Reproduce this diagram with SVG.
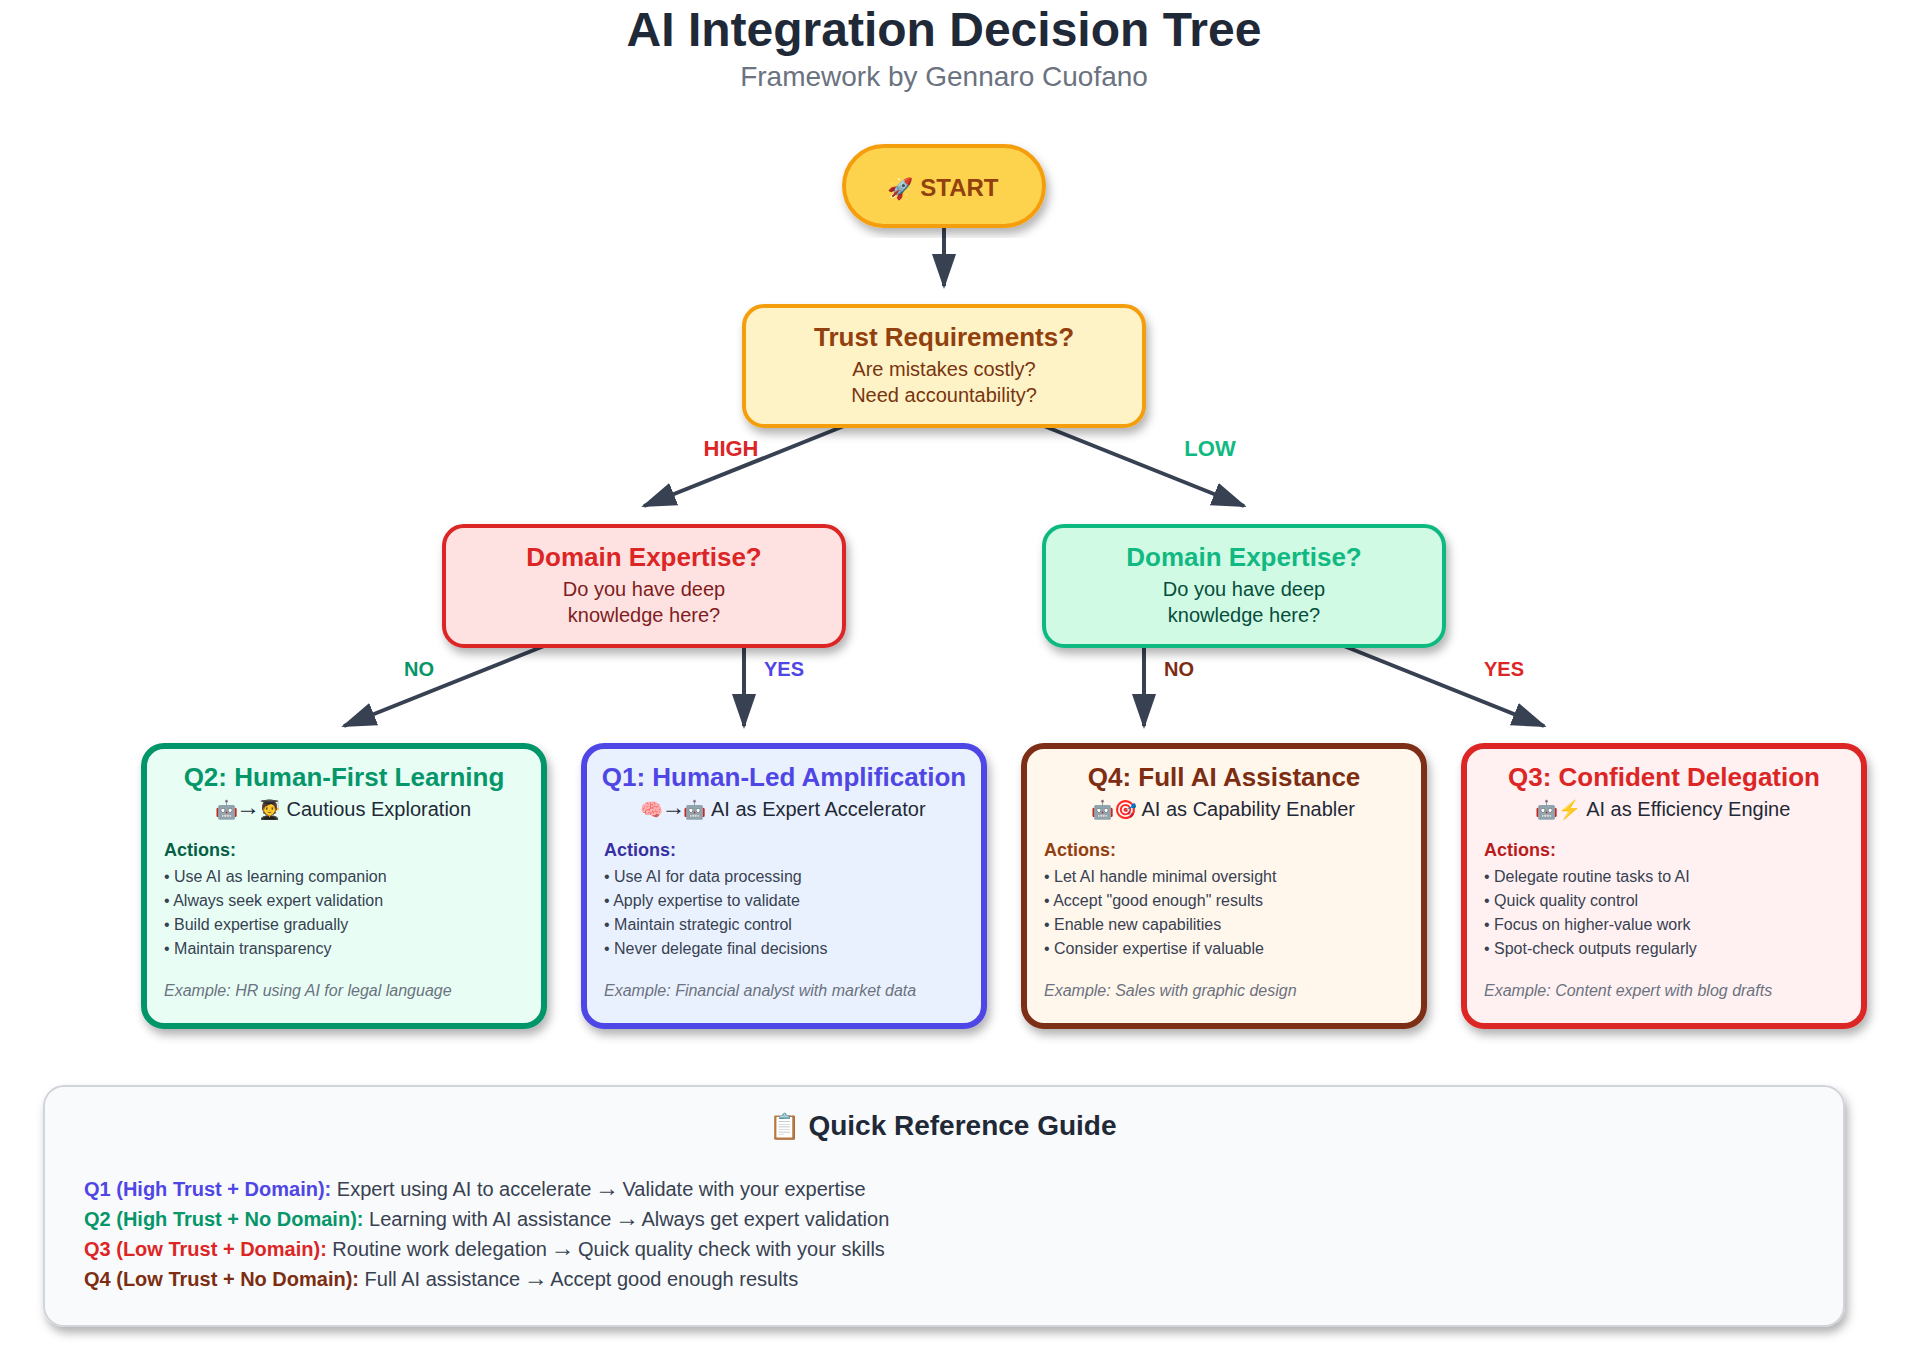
<svg xmlns="http://www.w3.org/2000/svg" width="1914" height="1356" viewBox="0 0 1914 1356">
<style>
text{font-family:"Liberation Sans",Arial,"Noto Color Emoji",sans-serif}
.c{text-anchor:middle}
.b{font-weight:700}
.t24{font-size:24px;font-weight:700}
.t26{font-size:26px;font-weight:700}
.s20{font-size:20px}
.sub{font-size:20px;fill:#1f2937}
.em{font-size:18.5px}
.ar{font-size:24px}
.act{font-size:18px;font-weight:700}
.li{font-size:16px;fill:#374151}
.ex{font-size:16px;font-style:italic;fill:#6b7280}
.lb{font-size:22px;font-weight:700}
.lb2{font-size:20px;font-weight:700}
.g{font-size:20px;fill:#374151}
.cn{stroke:#374151;stroke-width:4;fill:none;marker-end:url(#arrow)}
.n{filter:url(#sh)}
</style>
<defs>
<filter id="sh" x="-10%" y="-10%" width="125%" height="125%"><feDropShadow dx="3" dy="6" stdDeviation="5" flood-color="#000" flood-opacity="0.3"/></filter>
<marker id="arrow" markerUnits="userSpaceOnUse" markerWidth="36" markerHeight="26" refX="32" refY="12" orient="auto"><polygon points="0 0,35 12,0 24" fill="#374151"/></marker>
</defs>
<rect width="1914" height="1356" fill="#fff"/>
<text class="c b" x="944" y="46" font-size="48" fill="#1f2937">AI Integration Decision Tree</text>
<text class="c" x="944" y="86" font-size="28" fill="#6b7280">Framework by Gennaro Cuofano</text>
<g id="connectors">
<line class="cn" x1="944" y1="226" x2="944" y2="286"/>
<line class="cn" x1="844" y1="426" x2="644" y2="506"/>
<line class="cn" x1="1044" y1="426" x2="1244" y2="506"/>
<line class="cn" x1="544" y1="646" x2="344" y2="726"/>
<line class="cn" x1="744" y1="646" x2="744" y2="726"/>
<line class="cn" x1="1144" y1="646" x2="1144" y2="726"/>
<line class="cn" x1="1344" y1="646" x2="1544" y2="726"/>
<text class="c lb" x="731" y="456" fill="#dc2626">HIGH</text>
<text class="c lb" x="1210" y="456" fill="#10b981">LOW</text>
<text class="c lb2" x="419" y="676" fill="#059669">NO</text>
<text class="c lb2" x="784" y="676" fill="#4f46e5">YES</text>
<text class="c lb2" x="1179" y="676" fill="#7c2d12">NO</text>
<text class="c lb2" x="1504" y="676" fill="#dc2626">YES</text>
</g>
<g id="start"><rect class="n" x="844" y="146" width="200" height="80" rx="40" fill="#fdd34d" stroke="#f59e0b" stroke-width="4"/>
<text class="c t24" x="943" y="196" fill="#92400e"><tspan font-size="21">🚀</tspan> START</text></g>
<g id="trust"><rect class="n" x="744" y="306" width="400" height="120" rx="20" fill="#fef3c7" stroke="#f59e0b" stroke-width="4"/>
<text class="c t26" x="944" y="346" fill="#92400e">Trust Requirements?</text>
<text class="c s20" x="944" y="376" fill="#78350f">Are mistakes costly?</text>
<text class="c s20" x="944" y="402" fill="#78350f">Need accountability?</text></g>
<g id="domain-high"><rect class="n" x="444" y="526" width="400" height="120" rx="20" fill="#fee2e2" stroke="#dc2626" stroke-width="4"/>
<text class="c t26" x="644" y="566" fill="#dc2626">Domain Expertise?</text>
<text class="c s20" x="644" y="596" fill="#7f1d1d">Do you have deep</text>
<text class="c s20" x="644" y="622" fill="#7f1d1d">knowledge here?</text></g>
<g id="domain-low"><rect class="n" x="1044" y="526" width="400" height="120" rx="20" fill="#d1fae5" stroke="#10b981" stroke-width="4"/>
<text class="c t26" x="1244" y="566" fill="#10b981">Domain Expertise?</text>
<text class="c s20" x="1244" y="596" fill="#064e3b">Do you have deep</text>
<text class="c s20" x="1244" y="622" fill="#064e3b">knowledge here?</text></g>
<g id="q2"><rect class="n" x="144" y="746" width="400" height="280" rx="20" fill="#e8fef5" stroke="#059669" stroke-width="6"/>
<text class="c t26" x="344" y="786" fill="#059669">Q2: Human-First Learning</text>
<text class="c sub" x="343" y="816"><tspan class="em">🤖</tspan><tspan class="ar" dx="-2" dy="-1">→</tspan><tspan class="em" dx="-2" dy="1">🧑‍🎓</tspan> Cautious Exploration</text>
<text class="act" x="164" y="856" fill="#065f46">Actions:</text>
<text class="li" x="164" y="882">• Use AI as learning companion</text>
<text class="li" x="164" y="906">• Always seek expert validation</text>
<text class="li" x="164" y="930">• Build expertise gradually</text>
<text class="li" x="164" y="954">• Maintain transparency</text>
<text class="ex" x="164" y="996">Example: HR using AI for legal language</text></g>
<g id="q1"><rect class="n" x="584" y="746" width="400" height="280" rx="20" fill="#eaf1fe" stroke="#4f46e5" stroke-width="6"/>
<text class="c t26" x="784" y="786" fill="#4f46e5">Q1: Human-Led Amplification</text>
<text class="c sub" x="783" y="816"><tspan class="em">🧠</tspan><tspan class="ar" dx="-2" dy="-1">→</tspan><tspan class="em" dx="-2" dy="1">🤖</tspan> AI as Expert Accelerator</text>
<text class="act" x="604" y="856" fill="#3730a3">Actions:</text>
<text class="li" x="604" y="882">• Use AI for data processing</text>
<text class="li" x="604" y="906">• Apply expertise to validate</text>
<text class="li" x="604" y="930">• Maintain strategic control</text>
<text class="li" x="604" y="954">• Never delegate final decisions</text>
<text class="ex" x="604" y="996">Example: Financial analyst with market data</text></g>
<g id="q4"><rect class="n" x="1024" y="746" width="400" height="280" rx="20" fill="#fff6ec" stroke="#7c2d12" stroke-width="6"/>
<text class="c t26" x="1224" y="786" fill="#7c2d12">Q4: Full AI Assistance</text>
<text class="c sub" x="1223" y="816"><tspan class="em">🤖🎯</tspan> AI as Capability Enabler</text>
<text class="act" x="1044" y="856" fill="#92400e">Actions:</text>
<text class="li" x="1044" y="882">• Let AI handle minimal oversight</text>
<text class="li" x="1044" y="906">• Accept "good enough" results</text>
<text class="li" x="1044" y="930">• Enable new capabilities</text>
<text class="li" x="1044" y="954">• Consider expertise if valuable</text>
<text class="ex" x="1044" y="996">Example: Sales with graphic design</text></g>
<g id="q3"><rect class="n" x="1464" y="746" width="400" height="280" rx="20" fill="#fff1f1" stroke="#dc2626" stroke-width="6"/>
<text class="c t26" x="1664" y="786" fill="#dc2626">Q3: Confident Delegation</text>
<text class="c sub" x="1663" y="816"><tspan class="em">🤖⚡</tspan> AI as Efficiency Engine</text>
<text class="act" x="1484" y="856" fill="#b91c1c">Actions:</text>
<text class="li" x="1484" y="882">• Delegate routine tasks to AI</text>
<text class="li" x="1484" y="906">• Quick quality control</text>
<text class="li" x="1484" y="930">• Focus on higher-value work</text>
<text class="li" x="1484" y="954">• Spot-check outputs regularly</text>
<text class="ex" x="1484" y="996">Example: Content expert with blog drafts</text></g>
<g id="guide"><rect class="n" x="44" y="1086" width="1800" height="240" rx="20" fill="#f9fafb" stroke="#d1d5db" stroke-width="2"/>
<text class="c b" x="943" y="1135" font-size="28" fill="#1f2937"><tspan font-size="25">📋</tspan> Quick Reference Guide</text>
<text class="g" x="84" y="1196"><tspan class="b" fill="#4f46e5">Q1 (High Trust + Domain):</tspan> Expert using AI to accelerate <tspan class="ar" dx="-2">→</tspan><tspan dx="-2"> Validate with your expertise</tspan></text>
<text class="g" x="84" y="1226"><tspan class="b" fill="#059669">Q2 (High Trust + No Domain):</tspan> Learning with AI assistance <tspan class="ar" dx="-2">→</tspan><tspan dx="-2"> Always get expert validation</tspan></text>
<text class="g" x="84" y="1256"><tspan class="b" fill="#dc2626">Q3 (Low Trust + Domain):</tspan> Routine work delegation <tspan class="ar" dx="-2">→</tspan><tspan dx="-2"> Quick quality check with your skills</tspan></text>
<text class="g" x="84" y="1286"><tspan class="b" fill="#7c2d12">Q4 (Low Trust + No Domain):</tspan> Full AI assistance <tspan class="ar" dx="-2">→</tspan><tspan dx="-2"> Accept good enough results</tspan></text></g>
</svg>
